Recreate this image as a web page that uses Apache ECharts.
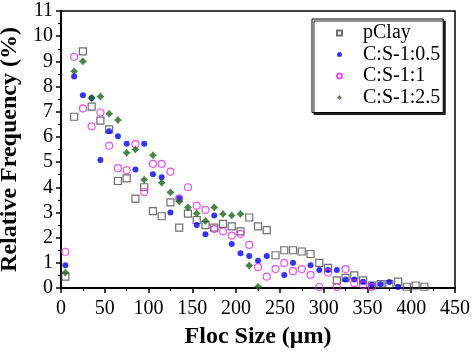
<!DOCTYPE html>
<html>
<head>
<meta charset="utf-8">
<script src="https://cdn.jsdelivr.net/npm/echarts@6/dist/echarts.min.js"></script>
<style>
  html, body { margin: 0; padding: 0; background: #fff; }
  #chart { width: 474px; height: 354px; }
</style>
</head>
<body>
<div id="chart"></div>
<script>
// floc size bin centres (um)
const flocSize = [5, 15, 25, 35, 45, 55, 65, 75, 85, 95,
  105, 115, 125, 135, 145, 155, 165, 175, 185, 195,
  205, 215, 225, 235, 245, 255, 265, 275, 285, 295,
  305, 315, 325, 335, 345, 355, 365, 375, 385, 395,
  405, 415];

// relative frequency (%) per bin, null = no point
const pClay = [0.45, 6.8, 9.4, 7.2, 6.65, 6.3, 4.25, 4.35, 3.55, 4.0,
  3.05, 2.85, 3.4, 2.4, 2.95, 2.7, 2.5, 2.4, 2.55, 2.45,
  2.25, 2.8, 2.45, 2.3, 1.3, 1.5, 1.5, 1.45, 1.35, 1.0,
  0.8, 0.3, 0.4, 0.5, 0.3, 0.1, 0.15, 0.15, 0.25, 0.05,
  0.1, 0.05];
const cs05 = [0.9, 8.4, 7.65, 7.55, 5.08, 6.22, 6.03, 5.73, 4.71, 5.73,
  4.52, 4.4, 3.0, 3.56, null, 2.5, 2.13, 2.88, null, 1.75,
  1.38, 1.27, 1.08, 1.27, null, 0.52, 1.0, null, 0.9, 0.71,
  0.71, 0.71, 0.34, 0.34, 0.25, 0.13, 0.15, 0.24, 0.04];
const cs1 = [1.44, 9.18, 7.13, 6.42, 6.97, 5.65, 4.76, 4.68, 5.71, 3.81,
  4.93, 4.93, 4.62, 3.56, 4.0, 3.27, 3.1, 2.34, 2.25, 2.08,
  2.15, 1.71, 0.83, 0.45, 0.75, 0.99, 0.67, 0.75, 0.52, 0.04,
  0.61, 0.04, 0.75, 0.19, 0.12, 0.04];
const cs25 = [0.61, 8.61, 9.0, 7.55, 7.6, 6.92, 6.67, 5.37, 5.5, 4.3,
  5.27, 4.18, 3.8, 3.44, 3.2, 2.96, 2.66, 3.2, 2.94, 2.88,
  2.94, 0.89, 0.05];

const seriesNames = ['pClay', 'C:S-1:0.5', 'C:S-1:1', 'C:S-1:2.5'];

// pair each value with its bin, drop the gaps
function toPoints(values) {
  const pts = [];
  values.forEach(function (v, i) {
    if (v !== null) pts.push([flocSize[i], v]);
  });
  return pts;
}

const FONT = '"Liberation Serif", "Times New Roman", serif';
// chunky 4-point star like the origin marker
const starPath = 'path://M0,-10 L4.5,-4.5 L10,0 L4.5,4.5 L0,10 L-4.5,4.5 L-10,0 L-4.5,-4.5 Z';

const chart = echarts.init(document.getElementById('chart'), null, { renderer: 'canvas' });

const option = {
  animation: false,
  backgroundColor: '#fff',
  grid: {
    left: 61, right: 19, top: 11, bottom: 66,
    outerBoundsMode: 'none',
    containLabel: false,
    show: true, borderColor: '#000', borderWidth: 1.5
  },
  legend: {
    orient: 'vertical',
    left: 312, top: 19,
    padding: [4, 3, 5, 24],
    itemWidth: 5, itemHeight: 5,
    itemGap: 1.5,
    backgroundColor: '#fff',
    borderColor: '#000', borderWidth: 1,
    shadowColor: 'rgba(0,0,0,0.85)', shadowBlur: 0,
    shadowOffsetX: 2, shadowOffsetY: 2,
    textStyle: { fontFamily: FONT, fontSize: 20, color: '#000', lineHeight: 20, padding: [0, 0, 0, 16] },
    data: seriesNames
  },
  xAxis: {
    type: 'value', min: 0, max: 450, interval: 50,
    name: 'Floc Size (\u03bcm)', nameLocation: 'middle', nameGap: 37,
    nameTextStyle: { fontFamily: FONT, fontSize: 24, fontWeight: 'bold', color: '#000' },
    axisLine: { onZero: false, lineStyle: { color: '#000', width: 2 } },
    axisTick: { inside: false, length: 5, lineStyle: { color: '#000', width: 1.5 } },
    minorTick: { show: true, splitNumber: 2, length: 3, lineStyle: { color: '#000', width: 1.2 } },
    axisLabel: { fontFamily: FONT, fontSize: 20, color: '#000', margin: 11 },
    splitLine: { show: false }
  },
  yAxis: {
    type: 'value', min: 0, max: 11, interval: 1,
    name: 'Relative Frequency (%)', nameLocation: 'middle', nameGap: 26, nameRotate: 90,
    nameTextStyle: { fontFamily: FONT, fontSize: 24, fontWeight: 'bold', color: '#000' },
    axisLine: { onZero: false, lineStyle: { color: '#000', width: 2 } },
    axisTick: { inside: false, length: 5, lineStyle: { color: '#000', width: 1.5 } },
    minorTick: { show: true, splitNumber: 2, length: 3, lineStyle: { color: '#000', width: 1.2 } },
    axisLabel: { fontFamily: FONT, fontSize: 20, color: '#000', margin: 8 },
    splitLine: { show: false }
  },
  series: [
    {
      name: seriesNames[0], type: 'scatter', symbol: 'rect', symbolSize: 7,
      itemStyle: { color: 'rgba(255,255,255,0)', borderColor: '#4a4a4a', borderWidth: 1.2 },
      data: toPoints(pClay)
    },
    {
      name: seriesNames[1], type: 'scatter', symbol: 'circle', symbolSize: 6,
      itemStyle: { color: '#0000ff' },
      data: toPoints(cs05)
    },
    {
      name: seriesNames[2], type: 'scatter', symbol: 'circle', symbolSize: 7,
      itemStyle: { color: 'rgba(255,255,255,0)', borderColor: '#ee22ee', borderWidth: 1.2 },
      data: toPoints(cs1)
    },
    {
      name: seriesNames[3], type: 'scatter', symbol: starPath, symbolSize: 8,
      itemStyle: { color: '#186818' },
      data: toPoints(cs25)
    }
  ]
};

chart.setOption(option);
</script>
</body>
</html>
